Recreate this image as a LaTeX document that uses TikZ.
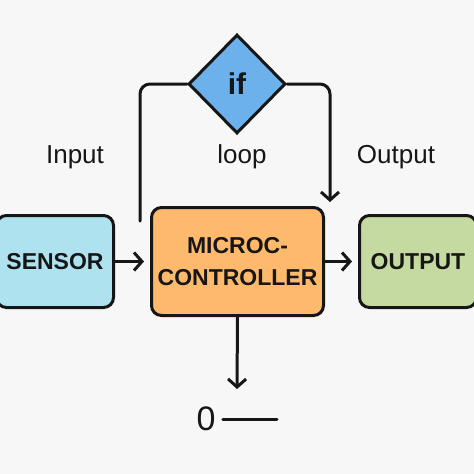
\documentclass[tikz,border=0pt]{standalone}
\usepackage{fontspec}
\setmainfont{Liberation Sans}
\usetikzlibrary{shapes.geometric,arrows.meta}
\definecolor{bgcol}{HTML}{F7F7F7}
\definecolor{sensorcol}{HTML}{AEE2EF}
\definecolor{mcucol}{HTML}{FDB96C}
\definecolor{outcol}{HTML}{C5DAA0}
\definecolor{condcol}{HTML}{6CB1EC}
\definecolor{inkcol}{HTML}{161616}
\tikzset{
  blockbox/.style={draw=inkcol, line width=3pt, rounded corners=10pt, align=center,
    font=\bfseries\fontsize{23}{32}\selectfont, text=inkcol},
  labeltext/.style={font=\fontsize{26}{30}\selectfont, text=inkcol, anchor=base},
  flow/.style={draw=inkcol, line width=3pt, line cap=round},
  flowarrow/.style={flow, -{Straight Barb[length=8pt,width=18pt,line width=3pt]}},
}
\begin{document}
\begin{tikzpicture}[x=1pt,y=-1pt]
\useasboundingbox (0,0) rectangle (474,474);
\fill[bgcol] (0,0) rectangle (474,474);

\begin{scope}
\clip (0,0) rectangle (474,474);
\node[blockbox, fill=sensorcol, minimum width=117pt, minimum height=92pt] (sensor) at (55,261.5) {SENSOR};
\node[blockbox, fill=mcucol, minimum width=172pt, minimum height=108pt] (mcu) at (237.5,261.5) {MICROC-\\CONTROLLER};
\node[blockbox, fill=outcol, minimum width=117pt, minimum height=92pt] (output) at (418,261.5) {OUTPUT};
\end{scope}

\node[diamond, draw=inkcol, line width=3pt, fill=condcol, inner sep=0pt,
  minimum width=97pt, minimum height=99pt,
  font=\bfseries\fontsize{30}{34}\selectfont, text=inkcol] (cond) at (237,84) {if};

\node[labeltext] (input) at (75,163) {Input};
\node[labeltext] (loop) at (242,163) {loop};
\node[labeltext] (outlabel) at (396,163) {Output};

\coordinate (loopend) at (140,221);
\coordinate (loopin) at (330,202);
\coordinate (drop) at (237,389);
\node[font=\fontsize{34}{38}\selectfont, text=inkcol] (zero) at (206,419) {0};
\coordinate (zeroend) at (277,419);

% loop around the decision
\draw[flow, rounded corners=10pt] (cond.west) -| (loopend);
\draw[flowarrow, rounded corners=10pt] (cond.east) -| (loopin);

% main signal path
\draw[flowarrow, shorten >=6pt] (sensor.east) -- (mcu.west);
\draw[flowarrow, shorten >=6pt] (mcu.east) -- (output.west);
\draw[flowarrow] (mcu.south) -- (drop);
\draw[flow] ([xshift=4pt]zero.east) -- (zeroend);
\end{tikzpicture}
\end{document}
